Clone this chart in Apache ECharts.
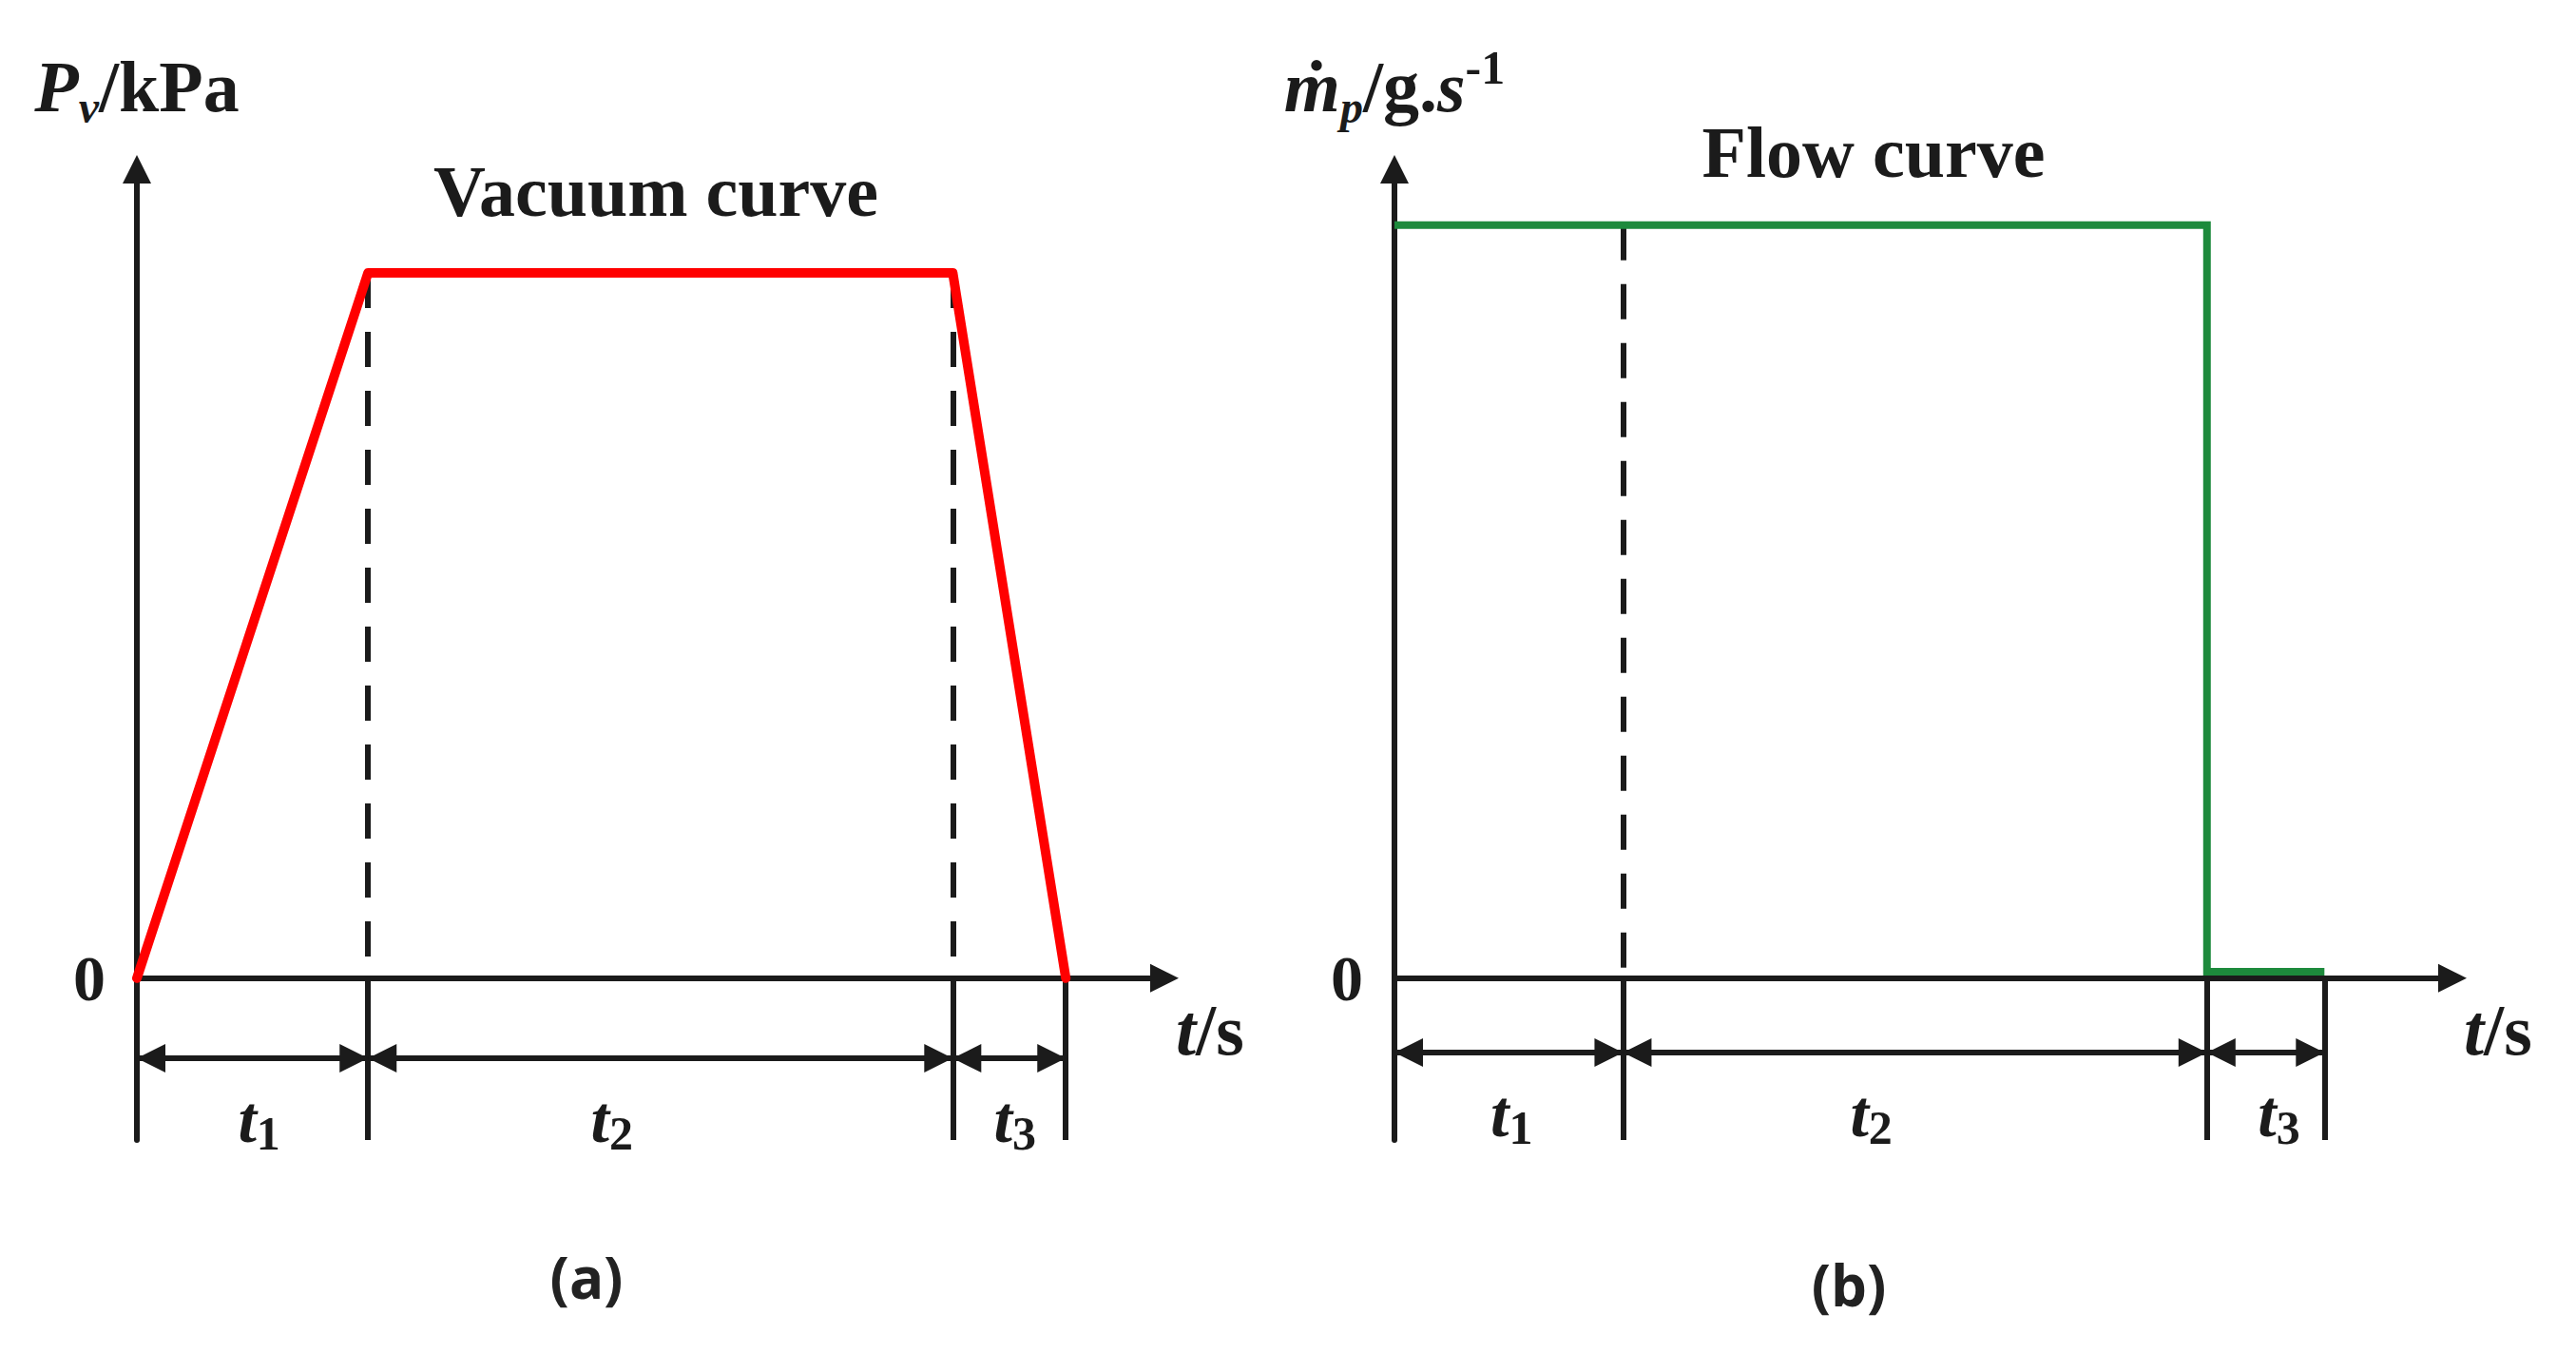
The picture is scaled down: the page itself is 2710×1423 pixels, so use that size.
<!DOCTYPE html>
<html>
<head>
<meta charset="utf-8">
<script src="https://cdn.jsdelivr.net/npm/echarts@6/dist/echarts.min.js"></script>
<style>
html,body{margin:0;padding:0;background:#ffffff;}
#chart{width:2710px;height:1423px;}
</style>
</head>
<body>
<div id="chart"></div>
<script>
// ---------------- data ----------------
const phaseSubscripts = ['1', '2', '3'];
const vacuumTime = [0, 2.25, 7.94, 9.04];
const vacuumPressure = [0, 8.72, 8.72, 0];
const vacuumPhaseEnds = [2.25, 7.94, 9.04];
const flowTime = [0, 7.68, 7.68, 8.79];
const flowRate = [9.31, 9.31, 0.08, 0.08];
const flowPhaseEnds = [2.16, 7.68, 8.79];
const yTickValues = [0];
const panelTitles = ['Vacuum curve', 'Flow curve'];
const panelTags = ['(a)', '(b)'];

// ---------------- styling / layout ----------------
const INK = '#1b1b1b';
const SERIF = '"Liberation Serif", "Times New Roman", serif';
const SANS = '"Open Sans", "Noto Sans", sans-serif';
const X_MAX = 10, Y_MAX = 10, Y_MIN = -2;
const DIM_Y = [-0.99, -0.92];
const LABEL_SHIFT = [[7, -51, 6], [3, -46, 14]];
const LINE_W = 6;
const HEAD = 30;

const chart = echarts.init(document.getElementById('chart'), null, {renderer: 'svg'});

const serifBold = (size, italic) => ({
  fontFamily: SERIF, fontWeight: 'bold', fontStyle: italic ? 'italic' : 'normal',
  fontSize: size, color: INK
});

function makeXAxis(i) {
  return {
    type: 'value', gridIndex: i, min: 0, max: X_MAX,
    axisLine: {show: true, onZero: true, lineStyle: {color: INK, width: LINE_W},
      symbol: ['none', 'triangle'], symbolSize: [30, 30]},
    axisTick: {show: false}, axisLabel: {show: false}, splitLine: {show: false},
    name: '{i|t}{n|/s}', nameLocation: 'end', nameGap: 12,
    nameTextStyle: {
      fontSize: 76, lineHeight: 76, padding: [108, 0, 0, 0],
      rich: {
        i: Object.assign(serifBold(76, true), {lineHeight: 76}),
        n: Object.assign(serifBold(76, false), {lineHeight: 76})
      }
    }
  };
}

function makeYAxis(i, name, rich) {
  return {
    type: 'value', gridIndex: i, min: Y_MIN, max: Y_MAX,
    axisLine: {show: true, onZero: true, lineStyle: {color: INK, width: LINE_W},
      symbol: ['none', 'triangle'], symbolSize: [30, 30]},
    axisTick: {show: false}, splitLine: {show: false},
    axisLabel: Object.assign({customValues: yTickValues, margin: 33}, serifBold(68, false)),
    name: name, nameLocation: 'end', nameGap: 42,
    nameTextStyle: {fontSize: 76, lineHeight: 90, rich: rich}
  };
}

const richPv = {
  p: Object.assign(serifBold(76, true), {lineHeight: 90}),
  sub: Object.assign(serifBold(48, true), {lineHeight: 48, verticalAlign: 'bottom'}),
  n: Object.assign(serifBold(76, false), {lineHeight: 90})
};
const richMp = {
  m: Object.assign(serifBold(76, true), {lineHeight: 90}),
  sub: Object.assign(serifBold(48, true), {lineHeight: 48, verticalAlign: 'bottom'}),
  n: Object.assign(serifBold(76, false), {lineHeight: 90}),
  s: Object.assign(serifBold(76, true), {lineHeight: 90}),
  sup: Object.assign(serifBold(50, false), {lineHeight: 50, verticalAlign: 'top'})
};

const tLabelRich = {
  i: Object.assign(serifBold(70, true), {lineHeight: 80}),
  s: Object.assign(serifBold(50, false), {lineHeight: 50, verticalAlign: 'bottom'})
};

function guideSeries(i, ends, topValue, dashedCount) {
  const dashed = [];
  for (let k = 0; k < dashedCount; k++) {
    dashed.push([{coord: [ends[k], topValue]}, {coord: [ends[k], 0]}]);
  }
  const ext = ends.map(x => [{coord: [x, 0]}, {coord: [x, Y_MIN]}]);
  const starts = [0].concat(ends.slice(0, -1));
  const dims = ends.map((x, k) => [
    {coord: [starts[k], DIM_Y[i]],
      label: {formatter: '{i|t}{s|' + phaseSubscripts[k] + '}', offset: [LABEL_SHIFT[i][k], 0]}},
    {coord: [x, DIM_Y[i]]}
  ]);
  const base = {type: 'line', xAxisIndex: i, yAxisIndex: i, data: [], silent: true, animation: false};
  return [
    Object.assign({}, base, {
      name: 'guides-dashed-' + i, z: 2,
      markLine: {silent: true, symbol: ['none', 'none'], animation: false,
        lineStyle: {color: INK, width: LINE_W, type: [37, 25]}, label: {show: false}, data: dashed}
    }),
    Object.assign({}, base, {
      name: 'guides-ext-' + i, z: 2,
      markLine: {silent: true, symbol: ['none', 'none'], animation: false,
        lineStyle: {color: INK, width: LINE_W, type: 'solid'}, label: {show: false}, data: ext}
    }),
    Object.assign({}, base, {
      name: 'guides-dim-' + i, z: 3,
      markLine: {silent: true, symbol: ['triangle', 'triangle'], symbolSize: [HEAD, HEAD],
        symbolOffset: [[0, HEAD / 2], [0, HEAD / 2]], animation: false,
        lineStyle: {color: INK, width: LINE_W, type: 'solid'},
        itemStyle: {color: INK},
        label: {show: true, position: 'insideMiddleBottom', distance: 24, color: INK, rich: tLabelRich},
        data: dims}
    })
  ];
}

const option = {
  backgroundColor: '#ffffff',
  animation: false,
  title: [
    {text: panelTitles[0], left: 690, top: 163, textAlign: 'center', padding: 0, textStyle: serifBold(76, false)},
    {text: panelTitles[1], left: 1971, top: 122, textAlign: 'center', padding: 0, textStyle: serifBold(76, false)},
    {text: panelTags[0], left: 617, top: 1313, textAlign: 'center', padding: 0,
      textStyle: {fontFamily: SANS, fontWeight: 'bold', fontSize: 60, color: '#222222'}},
    {text: panelTags[1], left: 1945, top: 1321, textAlign: 'center', padding: 0,
      textStyle: {fontFamily: SANS, fontWeight: 'bold', fontSize: 60, color: '#222222'}}
  ],
  grid: [
    {left: 144, top: 178, width: 1081, height: 1021, containLabel: false, outerBoundsMode: 'none'},
    {left: 1467, top: 178, width: 1113, height: 1021, containLabel: false, outerBoundsMode: 'none'}
  ],
  xAxis: [makeXAxis(0), makeXAxis(1)],
  yAxis: [
    makeYAxis(0, '{p|P}{sub|v}{n|/kPa}', richPv),
    makeYAxis(1, '{m|ṁ}{sub|p}{n|/g.}{s|s}{sup|-1}', richMp)
  ],
  series: [
    {
      type: 'line', name: panelTitles[0], xAxisIndex: 0, yAxisIndex: 0,
      data: vacuumTime.map((t, k) => [t, vacuumPressure[k]]),
      symbol: 'none', showSymbol: false, clip: false, z: 5,
      lineStyle: {color: '#ff0000', width: 10, cap: 'round', join: 'round'}
    },
    {
      type: 'line', name: panelTitles[1], xAxisIndex: 1, yAxisIndex: 1,
      data: flowTime.map((t, k) => [t, flowRate[k]]),
      symbol: 'none', showSymbol: false, clip: false, z: 5,
      lineStyle: {color: '#1d8a3c', width: 8, join: 'miter'}
    }
  ].concat(guideSeries(0, vacuumPhaseEnds, vacuumPressure[1], 2))
   .concat(guideSeries(1, flowPhaseEnds, flowRate[0], 1))
};

chart.setOption(option);
</script>
</body>
</html>
